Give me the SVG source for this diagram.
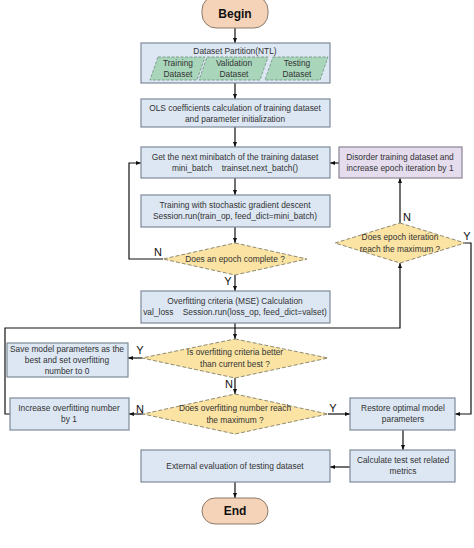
<svg xmlns="http://www.w3.org/2000/svg" width="474" height="548" viewBox="0 0 474 548">
<defs>
<marker id="ah" viewBox="0 0 10 10" refX="10" refY="5" markerWidth="5" markerHeight="5" orient="auto-start-reverse" markerUnits="userSpaceOnUse">
<path d="M0 1 L10 5 L0 9 Z" fill="#111"/>
</marker>
<style>
.t{font-family:"Liberation Sans",Arial,sans-serif;font-size:8.4px;fill:#333;text-anchor:middle;white-space:pre}
.b{font-family:"Liberation Sans",Arial,sans-serif;font-size:12px;font-weight:bold;fill:#111;text-anchor:middle}
.l{font-family:"Liberation Sans",Arial,sans-serif;font-size:11px;fill:#111;text-anchor:middle}
.box{fill:#dce7f3;stroke:#7d8a99;stroke-width:1.2}
.pur{fill:#e5dcee;stroke:#8a8494;stroke-width:1.2}
.dia{fill:#fbe4a3;stroke:#8f8a70;stroke-width:1;stroke-dasharray:4 2}
.grn{fill:#a9d6bb;stroke:#6f8f7c;stroke-width:0.8;stroke-dasharray:3 1.5}
.term{fill:#f5d3b8;stroke:#8b7a6b;stroke-width:1}
.c{fill:none;stroke:#111;stroke-width:1.2}
</style>
</defs>
<rect width="474" height="548" fill="#fff"/>
<g id="connectors">
<path class="c" d="M235 28 V43" marker-end="url(#ah)"/>
<path class="c" d="M235 83 V99" marker-end="url(#ah)"/>
<path class="c" d="M235 127 V147" marker-end="url(#ah)"/>
<path class="c" d="M235 178 V195" marker-end="url(#ah)"/>
<path class="c" d="M235 227 V243" marker-end="url(#ah)"/>
<path class="c" d="M163 259 H129 V163 H141" marker-end="url(#ah)"/>
<path class="c" d="M235 275 V291" marker-end="url(#ah)"/>
<path class="c" d="M235 323 V339" marker-end="url(#ah)"/>
<path class="c" d="M10 414 H5 V328 H400 V263" marker-end="url(#ah)"/>
<path class="c" d="M142 358 H128" marker-end="url(#ah)"/>
<path class="c" d="M235 378 V394" marker-end="url(#ah)"/>
<path class="c" d="M143 414 H129" marker-end="url(#ah)"/>
<path class="c" d="M328 414 H350" marker-end="url(#ah)"/>
<path class="c" d="M465 243 H471 V414 H455" marker-end="url(#ah)"/>
<path class="c" d="M400 223 V178" marker-end="url(#ah)"/>
<path class="c" d="M339 163 H330" marker-end="url(#ah)"/>
<path class="c" d="M403 430 V450" marker-end="url(#ah)"/>
<path class="c" d="M350 467 H330" marker-end="url(#ah)"/>
<path class="c" d="M235 482 V498" marker-end="url(#ah)"/>
<text class="l" x="158" y="256">N</text>
<text class="l" x="228" y="285">Y</text>
<text class="l" x="140" y="354">Y</text>
<text class="l" x="229" y="388">N</text>
<text class="l" x="140" y="413">N</text>
<text class="l" x="333" y="412">Y</text>
<text class="l" x="407" y="221">N</text>
<text class="l" x="467" y="240">Y</text>
</g>
<g id="begin">
<rect class="term" x="202" y="-4" width="66" height="32" rx="14"/>
<text class="b" x="235" y="18">Begin</text>
</g>
<g id="dataset">
<rect class="box" x="141" y="43" width="189" height="40"/>
<text class="t" x="235" y="54">Dataset Partition(NTL)</text>
<polygon class="grn" points="158,57 205,57 197,80 150,80"/>
<polygon class="grn" points="207,57 268,57 260,80 199,80"/>
<polygon class="grn" points="273,57 328,57 320,80 265,80"/>
<text class="t" x="178" y="66">Training</text>
<text class="t" x="178" y="77">Dataset</text>
<text class="t" x="234" y="66">Validation</text>
<text class="t" x="234" y="77">Dataset</text>
<text class="t" x="297" y="66">Testing</text>
<text class="t" x="297" y="77">Dataset</text>
</g>
<g id="ols">
<rect class="box" x="141" y="99" width="189" height="28"/>
<text class="t" x="235" y="111">OLS coefficients calculation of training dataset</text>
<text class="t" x="235" y="122">and parameter initialization</text>
</g>
<g id="minibatch">
<rect class="box" x="141" y="147" width="189" height="31"/>
<text class="t" x="235" y="160">Get the next minibatch of the training dataset</text>
<text class="t" x="235" y="171">mini_batch    trainset.next_batch()</text>
</g>
<g id="training">
<rect class="box" x="141" y="195" width="189" height="32"/>
<text class="t" x="235" y="208">Training with stochastic gradient descent</text>
<text class="t" x="235" y="219">Session.run(train_op, feed_dict=mini_batch)</text>
</g>
<g id="epoch-complete">
<polygon class="dia" points="235,243 307,259 235,275 163,259"/>
<text class="t" x="235" y="262">Does an epoch complete ?</text>
</g>
<g id="overfit-calc">
<rect class="box" x="141" y="291" width="189" height="32"/>
<text class="t" x="235" y="304">Overfitting criteria (MSE) Calculation</text>
<text class="t" x="235" y="315">val_loss    Session.run(loss_op, feed_dict=valset)</text>
</g>
<g id="better">
<polygon class="dia" points="235,339 328,358 235,378 142,358"/>
<text class="t" x="235" y="355">Is overfitting criteria better</text>
<text class="t" x="235" y="367">than current best ?</text>
</g>
<g id="save">
<rect class="box" x="7" y="343" width="121" height="34"/>
<text class="t" x="67" y="352">Save model parameters as the</text>
<text class="t" x="67" y="363">best and set overfitting</text>
<text class="t" x="67" y="374">number to 0</text>
</g>
<g id="reach-max">
<polygon class="dia" points="235,394 328,414 235,434 143,414"/>
<text class="t" x="235" y="411">Does overfitting number reach</text>
<text class="t" x="235" y="423">the maximum ?</text>
</g>
<g id="increase">
<rect class="box" x="10" y="398" width="119" height="32"/>
<text class="t" x="69" y="411">Increase overfitting number</text>
<text class="t" x="69" y="422">by 1</text>
</g>
<g id="restore">
<rect class="box" x="350" y="398" width="105" height="32"/>
<text class="t" x="403" y="411">Restore optimal model</text>
<text class="t" x="403" y="422">parameters</text>
</g>
<g id="epoch-max">
<polygon class="dia" points="400,223 465,243 400,263 335,243"/>
<text class="t" x="400" y="240">Does epoch iteration</text>
<text class="t" x="400" y="252">reach the maximum ?</text>
</g>
<g id="disorder">
<rect class="pur" x="339" y="147" width="123" height="31"/>
<text class="t" x="400" y="160">Disorder training dataset and</text>
<text class="t" x="400" y="171">increase epoch iteration by 1</text>
</g>
<g id="calculate">
<rect class="box" x="350" y="450" width="105" height="32"/>
<text class="t" x="403" y="463">Calculate test set related</text>
<text class="t" x="403" y="474">metrics</text>
</g>
<g id="external">
<rect class="box" x="141" y="450" width="189" height="32"/>
<text class="t" x="235" y="469">External evaluation of testing dataset</text>
</g>
<g id="end">
<rect class="term" x="202" y="498" width="66" height="26" rx="13"/>
<text class="b" x="235" y="515">End</text>
</g>
</svg>
